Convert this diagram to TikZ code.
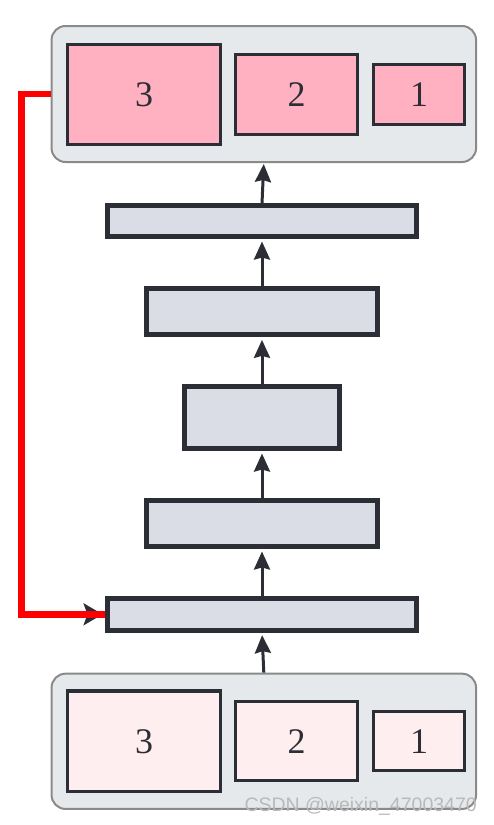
\documentclass[tikz,border=0pt]{standalone}
\usepackage{fontspec}
\setmainfont{Liberation Serif}
\newfontfamily\wmfont{Liberation Sans}
\usetikzlibrary{arrows.meta}
\definecolor{darkln}{HTML}{2B2E35}
\definecolor{contfill}{HTML}{E6E9EB}
\definecolor{contline}{HTML}{8A8A8A}
\definecolor{layerfill}{HTML}{DADDE6}
\definecolor{pinkA}{HTML}{FFB0C1}
\definecolor{pinkB}{HTML}{FFEEF0}
\definecolor{redln}{HTML}{FF0000}
\tikzset{
  container/.style={draw=contline, fill=contfill, line width=2pt, rounded corners=14pt, minimum width=424.5pt, inner sep=0pt},
  token/.style={draw=darkln, line width=3.3pt, inner sep=0pt, text=darkln, font=\fontsize{36}{36}\selectfont},
  layerbox/.style={draw=darkln, fill=layerfill, line width=5pt, inner sep=0pt},
  arr/.style={draw=darkln, line width=3pt, -{Stealth[length=18pt, width=16pt, inset=2pt]}},
  redline/.style={draw=redln, line width=6.5pt, miter limit=10},
}
\begin{document}
\begin{tikzpicture}[x=1pt, y=-1pt]
\useasboundingbox (0,0) rectangle (493,825);
% containers
\node[container, minimum height=136pt] (topc) at (263.8,94) {};
\node[container, minimum height=135.3pt] (botc) at (263.8,741.3) {};
% top tokens
\node[token, fill=pinkA, minimum width=152.8pt, minimum height=100pt] (t3) at (144,94.3) {3};
\node[token, fill=pinkA, minimum width=121.8pt, minimum height=80pt] (t2) at (296.5,94.3) {2};
\node[token, fill=pinkA, minimum width=90.8pt, minimum height=59.7pt] (t1) at (419,94.3) {1};
% bottom tokens
\node[token, fill=pinkB, minimum width=152.8pt, minimum height=100.7pt] (b3) at (144,741.3) {3};
\node[token, fill=pinkB, minimum width=121.8pt, minimum height=79pt] (b2) at (296.5,741.3) {2};
\node[token, fill=pinkB, minimum width=90.8pt, minimum height=59pt] (b1) at (419,741.3) {1};
% layers
\node[layerbox, minimum width=309pt, minimum height=31.7pt] (lE) at (262,614.3) {};
\node[layerbox, minimum width=231pt, minimum height=46pt] (lD) at (262,523.5) {};
\node[layerbox, minimum width=154.4pt, minimum height=61.7pt] (lC) at (262,417.7) {};
\node[layerbox, minimum width=231.7pt, minimum height=46.3pt] (lB) at (262,311.7) {};
\node[layerbox, minimum width=309pt, minimum height=30.7pt] (lA) at (262,221.2) {};
% arrows
\draw[arr, shorten >=2.5pt] (botc.north) -- (lE.south);
\draw[arr, shorten >=2.5pt] (lE.north) -- (lD.south);
\draw[arr, shorten >=2.5pt] (lD.north) -- (lC.south);
\draw[arr, shorten >=2.5pt] (lC.north) -- (lB.south);
\draw[arr, shorten >=2.5pt] (lB.north) -- (lA.south);
\draw[arr, shorten >=1pt] (lA.north) -- (topc.south);
% skip connection
\coordinate (rc) at (21.7,400);
\draw[draw=darkln, line width=3pt, -{Stealth[length=19pt, width=22pt, inset=4pt]}, shorten >=2.5pt] (rc |- lE.west) -- (lE.west);
\draw[redline] (topc.west) -| (rc) |- (lE.west);
% watermark
\node[font=\wmfont\fontsize{19.5}{19.5}\selectfont, text=gray!55, anchor=east, inner sep=0pt] (wm) at (477,806) {CSDN @weixin\_47003470};
\end{tikzpicture}
\end{document}
